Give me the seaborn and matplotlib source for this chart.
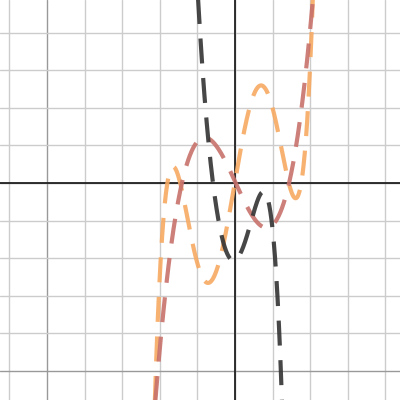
import matplotlib
matplotlib.use("Agg")
import matplotlib.pyplot as plt
import numpy as np
import seaborn as sns

sns.set_theme(style="white")

# points (graph units)
orange_x = [-2.13, -1.8, -1.65, -1.45, -0.67, 0.0, 0.8, 1.4, 1.6, 1.75, 2.07]
orange_y = [-5.77, 0.0, 0.4, 0.0, -2.63, 0.0, 2.6, 0.0, -0.37, 0.0, 4.87]
red_x = [-2.1, -1.9, -1.4, -0.8, 0.0, 0.85, 1.46, 2.07]
red_y = [-5.8, -3.06, 0.0, 1.15, 0.0, -1.05, 0.0, 4.87]
black_x = [-0.98, -0.58, -0.4, 0.0, 0.4, 0.75, 1.14, 1.25]
black_y = [4.87, 0.0, -1.25, -2.0, -1.17, -0.2, -3.2, -5.8]

curves = [
    (orange_x, orange_y, 5, "#f7a962"),
    (red_x, red_y, 3, "#c8716b"),
    (black_x, black_y, 5, "#333333"),
]

fig = plt.figure(figsize=(4, 4), dpi=100)
ax = fig.add_axes([0, 0, 1, 1])
xmin, xmax, ymin, ymax = -6.25, 4.39, -5.77, 4.87

for v in range(-6, 5):
    ax.axvline(v, color="#cccccc" if v % 5 else "#999999", lw=1, zorder=0)
for v in range(-5, 5):
    ax.axhline(v, color="#cccccc" if v % 5 else "#999999", lw=1, zorder=0)
ax.axhline(0, color="#222222", lw=1.3, zorder=1)
ax.axvline(0, color="#222222", lw=1.3, zorder=1)

for xs, ys, deg, col in curves:
    coef = np.polyfit(xs, ys, deg)
    xx = np.linspace(xmin, xmax, 2000)
    yy = np.polyval(coef, xx)
    keep = (yy > ymin - 1) & (yy < ymax + 1)
    sns.lineplot(x=xx[keep], y=yy[keep], ax=ax, color=col, lw=3, alpha=0.9,
                 dashes=False, sort=False, estimator=None, zorder=3,
                 linestyle=(0, (6, 3.5)))

ax.set_xlim(xmin, xmax)
ax.set_ylim(ymin, ymax)
ax.set_xticks([])
ax.set_yticks([])
for s in ax.spines.values():
    s.set_visible(False)

fig.savefig("out.png", dpi=100)
